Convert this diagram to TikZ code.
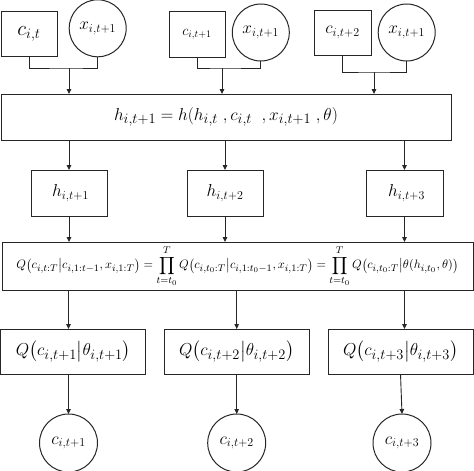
\documentclass[tikz,border=0pt]{standalone}
\usepackage{amsmath}
\usetikzlibrary{arrows.meta}
\renewcommand\defaultscriptratio{.76}
\renewcommand\defaultscriptscriptratio{.6}
\DeclareMathSizes{10}{10}{7.6}{6}
\begin{document}
\begin{tikzpicture}[x=1pt,y=-1pt,
  every node/.style={inner sep=0pt,outer sep=0pt},
  box/.style={draw=black!85,line width=1pt,rectangle,fill=white},
  circ/.style={draw=black!85,line width=1pt,circle,minimum size=57pt,fill=white},
  conn/.style={draw=black!85,line width=0.9pt},
  arr/.style={conn,-{Triangle[length=5pt,width=4.5pt]}},
  lbl/.style={font=\fontsize{16.5}{20}\selectfont},
  qlbl/.style={font=\fontsize{18.5}{22}\selectfont}]
\useasboundingbox (0,0) rectangle (474,471);
\fill[white] (0,0) rectangle (474,471);
% top row
\node[box,font=\fontsize{19.5}{24}\selectfont,minimum width=56pt,minimum height=45pt] (c1) at (29,33.5) {$c_{i,t}$};
\node[circ,lbl] (x1) at (97.7,28.3) {$x_{i,t+1}$};
\node[box,font=\fontsize{13.5}{17}\selectfont,minimum width=56pt,minimum height=46pt] (c2) at (197,34) {$c_{i,t+1}$};
\node[circ,lbl] (x2) at (260.8,32.5) {$x_{i,t+1}$};
\node[box,lbl,minimum width=57pt,minimum height=45pt] (c3) at (342.5,32.5) {$c_{i,t+2}$};
\node[circ,lbl] (x3) at (406.7,32.5) {$x_{i,t+1}$};
% H box
\node[box,font=\fontsize{17.5}{22}\selectfont,minimum width=450pt,minimum height=46pt] (H) at (226,117) {$h_{i,t+1} = h(h_{i,t}\;, c_{i,t}\;\;, x_{i,t+1}\;, \theta)$};
% junctions
\coordinate (j1) at (69,68);
\coordinate (j2) at (222,68);
\coordinate (j3) at (374,72);
\draw[conn] (c1.south) |- (j1) -| (x1.south);
\draw[conn] (c2.south) |- (j2) -| (x2.south);
\draw[conn] (c3.south) |- (j3) -| (x3.south);
\draw[arr] (j1) -- (H.north -| j1);
\draw[arr] (j2) -- (H.north -| j2);
\draw[arr] (j3) -- (H.north -| j3);
% h boxes
\node[box,lbl,minimum width=76pt,minimum height=46pt] (h1) at (69,193) {\hspace*{3pt}$h_{i,t+1}$};
\node[box,lbl,minimum width=76pt,minimum height=46pt] (h2) at (225,193) {$h_{i,t+2}$};
\node[box,lbl,minimum width=77pt,minimum height=46pt] (h3) at (404.5,193) {\hspace*{4pt}$h_{i,t+3}$};
\draw[arr] (H.south -| h1) -- (h1.north);
\draw[arr] (H.south -| h2) -- (h2.north);
\draw[arr] (H.south -| h3) -- (h3.north);
% Q box
\node[box,minimum width=471pt,minimum height=48pt] (Q) at (237.5,266)
 {\resizebox{442pt}{!}{$\displaystyle Q\bigl(c_{i,t:T}\big|c_{i,1:t-1},x_{i,1:T}\bigr)=\prod_{t=t_0}^{T}Q\bigl(c_{i,t_0:T}\big|c_{i,1:t_0-1},x_{i,1:T}\bigr)=\prod_{t=t_0}^{T}Q\bigl(c_{i,t_0:T}\big|\theta(h_{i,t_0},\theta)\bigr)$}};
\draw[arr] (h1.south) -- (Q.north -| h1);
\draw[arr] (h2.south) -- (Q.north -| h2);
\draw[arr] (h3.south) -- (Q.north -| h3);
% bottom circles
\node[circ,lbl,minimum size=58pt] (o1) at (68.5,443) {$c_{i,t+1}$};
\node[circ,lbl,minimum size=58pt] (o2) at (236.7,443) {$c_{i,t+2}$};
\node[circ,lbl,minimum size=58pt] (o3) at (402,443) {$c_{i,t+3}$};
% q boxes
\node[box,qlbl,minimum width=144.7pt,minimum height=45pt] (q1) at (73.3,351.5) {$Q\bigl(c_{i,t+1}\big|\theta_{i,t+1}\bigr)$};
\node[box,qlbl,minimum width=145pt,minimum height=45pt] (q2) at (236.5,351.5) {$Q\bigl(c_{i,t+2}\big|\theta_{i,t+2}\bigr)$};
\node[box,qlbl,minimum width=145pt,minimum height=45pt] (q3) at (400.5,351.5) {$Q\bigl(c_{i,t+3}\big|\theta_{i,t+3}\bigr)$};
\draw[arr] (Q.south -| o1) -- (q1.north -| o1);
\draw[arr] (Q.south -| o2) -- (q2.north -| o2);
\draw[arr] (Q.south -| h3) -- (q3.north -| h3);
\draw[arr] (q1.south -| o1) -- (o1.north);
\draw[arr] (q2.south -| o2) -- (o2.north);
\draw[arr] (q3.south) -- (o3.north);
\end{tikzpicture}
\end{document}
